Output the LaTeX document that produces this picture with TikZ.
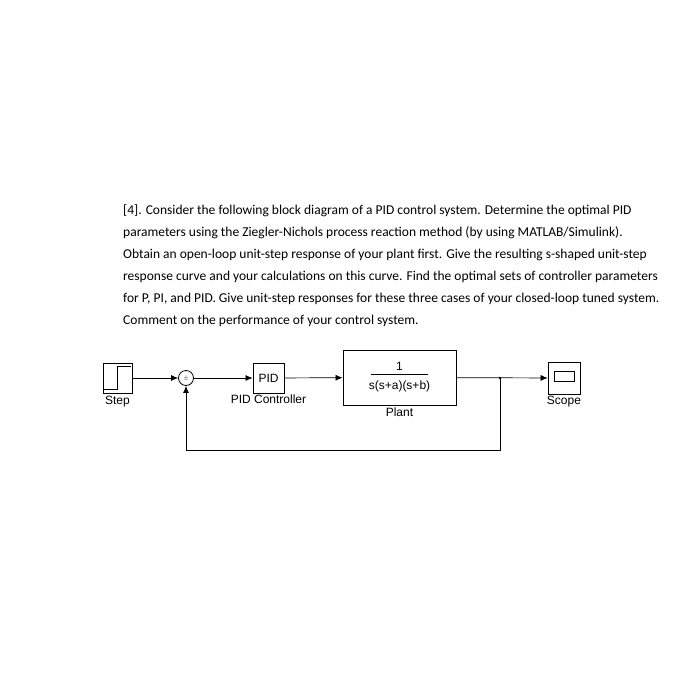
\documentclass[tikz,border=0pt]{standalone}
\usepackage{fontspec}
\setmainfont{Carlito}
\newfontfamily\arial{Liberation Sans}
\usetikzlibrary{arrows.meta}
\begin{document}
\begin{tikzpicture}[x=1pt,y=-1pt,
 txt/.style={anchor=west,inner sep=0,font=\fontsize{13.5}{15}\selectfont},
 blk/.style={draw,line width=0.8pt},
 lbl/.style={font=\arial\fontsize{12}{13}\selectfont,inner sep=0},
 sig/.style={line width=0.7pt,-{Latex[length=7pt,width=6pt]}}]
\useasboundingbox (0,0) rectangle (673,673);
\node[txt] (l1) at (123,211) {[4]. Consider the following block diagram of a PID control system. Determine the optimal PID};
\node[txt] (l2) at (123,233) {parameters using the Ziegler-Nichols process reaction method (by using MATLAB/Simulink).};
\node[txt] (l3) at (123,255) {Obtain an open-loop unit-step response of your plant first. Give the resulting s-shaped unit-step};
\node[txt] (l4) at (123,277) {response curve and your calculations on this curve. Find the optimal sets of controller parameters};
\node[txt] (l5) at (123,299) {for P, PI, and PID. Give unit-step responses for these three cases of your closed-loop tuned system.};
\node[txt] (l6) at (123,321) {Comment on the performance of your control system.};
% blocks
\node[blk,minimum width=29,minimum height=30,inner sep=0] (step) at (117.5,378) {};
\draw[line width=0.7pt] (104,389) -- (117,389) -- (117,366) -- (131,366);
\node[lbl,anchor=north] (stepl) at (117.5,396) {Step};
\node[blk,circle,minimum size=15,inner sep=0] (sum) at (186,378) {};
\node[font=\tiny,inner sep=0] (sg) at (186,378) {$\pm$};
\node[blk,minimum width=31,minimum height=30,inner sep=0,lbl] (pid) at (268.5,378) {PID};
\node[lbl,anchor=north] (pidl) at (268.5,395) {PID Controller};
\node[blk,minimum width=113,minimum height=55,inner sep=0] (plant) at (399.5,377.5) {};
\node[lbl] (num) at (399.5,366) {1};
\draw[line width=0.5pt] (371,374) -- (428,374);
\node[lbl] (den) at (399.5,386) {s(s+a)(s+b)};
\node[lbl,anchor=north] (plantl) at (399.5,408) {Plant};
\node[blk,minimum width=32,minimum height=32,inner sep=0] (scope) at (564,378) {};
\draw[line width=0.7pt] (554,371) rectangle (574,381);
\node[lbl,anchor=north] (scopel) at (564,396) {Scope};
\coordinate (br) at (500,378);
\coordinate (fb1) at (500,450);
\coordinate (fb2) at (186,450);
\draw[sig] (step) -- (sum);
\draw[sig] (sum) -- (pid);
\draw[sig] (pid) -- (plant);
\draw[sig] (plant) -- (scope);
\fill (br) circle (1.3);
\draw[sig] (br) -- (fb1) -- (fb2) -- (sum);
\end{tikzpicture}
\end{document}
